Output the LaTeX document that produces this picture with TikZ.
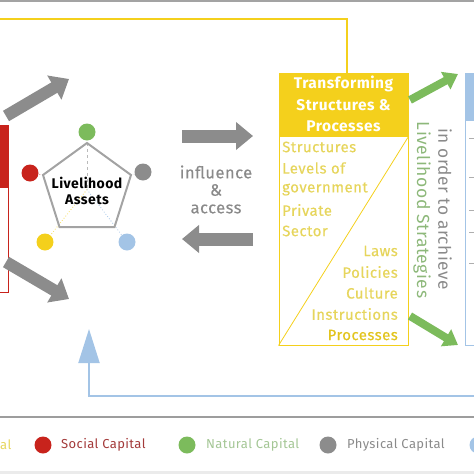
\documentclass[tikz,border=0pt]{standalone}
\usepackage{fontspec}
\setmainfont{Fira Sans}[LetterSpace=3]
\usetikzlibrary{arrows.meta}
\definecolor{ygold}{HTML}{F4D01C}
\definecolor{ytext}{HTML}{E6D55C}
\definecolor{ydark}{HTML}{E2C41E}
\definecolor{agray}{HTML}{8C8C8C}
\definecolor{tgray}{HTML}{8A8A8A}
\definecolor{lgreen}{HTML}{7CBB5C}
\definecolor{gtext}{HTML}{8DB87A}
\definecolor{rred}{HTML}{C8231C}
\definecolor{rtext}{HTML}{A33A3A}
\definecolor{lblue}{HTML}{A3C4E6}
\tikzset{
  garrow/.style={draw=agray, line width=12pt, -{Triangle[length=17pt,width=27pt]}},
  grarrow/.style={draw=lgreen, line width=8pt, -{Triangle[length=14pt,width=19pt]}},
  ybody/.style={text=ytext, inner sep=0pt, font=\fontsize{15}{17}\selectfont\addfontfeature{FakeBold=0.4}},
  hdr/.style={text=white, inner sep=0pt, font=\bfseries\fontsize{15.5}{17}\selectfont},
  mid/.style={text=tgray, inner sep=0pt, font=\fontsize{16.5}{18}\selectfont\addfontfeature{FakeBold=0.3}},
  leg/.style={inner sep=0pt, anchor=west, font=\fontsize{13}{14}\selectfont},
  capdot/.style={circle, inner sep=0pt, minimum size=17pt},
}
\begin{document}
\begin{tikzpicture}[x=1pt,y=-1pt]
\useasboundingbox (0,0) rectangle (474,474);
% top gray line
\draw[draw=agray!80, line width=2pt] (0,1) -- (474,1);
% yellow top connector
\coordinate (ytl) at (0,19);
\coordinate (ytc) at (347,19);
% yellow box
\node[draw=ygold, line width=1pt, minimum width=129pt, minimum height=272pt, inner sep=0pt] (ybox) at (343.5,209) {};
\fill[ygold] (ybox.north west) rectangle ([yshift=-64pt]ybox.north east);
\coordinate (hdrb) at ([yshift=-64pt]ybox.north east);
\draw[ygold, line width=1.5pt] (ytl) -- (ytc) -- (ybox.north -| ytc);
\draw[ygold, line width=0.8pt] (ybox.south west) -- (hdrb);
\node[hdr] (h1) at (343.5,84) {Transforming};
\node[hdr] (h2) at (343.5,105) {Structures \&};
\node[hdr] (h3) at (343.5,126) {Processes};
\node[ybody, anchor=west] (s1) at (282,147) {Structures};
\node[ybody, anchor=west] (s2) at (282,168) {Levels of};
\node[ybody, anchor=west] (s3) at (282,189) {government};
\node[ybody, anchor=west] (s4) at (282,210) {Private};
\node[ybody, anchor=west] (s5) at (282,231) {Sector};
\node[ybody, anchor=east] (p1) at (398,251) {Laws};
\node[ybody, anchor=east] (p2) at (398,272) {Policies};
\node[ybody, anchor=east] (p3) at (398,293) {Culture};
\node[ybody, anchor=east] (p4) at (398,314) {Instructions};
\node[ybody, anchor=east, text=ydark] (p5) at (398,335) {Processes};
% blue box at right
\node[draw=lblue, line width=1pt, minimum width=20pt, minimum height=272pt, inner sep=0pt] (bbox) at (475,209) {};
\fill[lblue] (bbox.north west) rectangle ([yshift=-48pt]bbox.north east);
\foreach \yy in {138,177,210,232,263} \draw[agray!70, line width=0.8pt] (469,\yy) -- (474,\yy);
% vertical texts
\node[text=gtext, rotate=-90, inner sep=0pt, font=\fontsize{17.5}{18}\selectfont] (ls) at (422,210) {Livelihood Strategies};
\node[text=tgray, rotate=-90, inner sep=0pt, font=\fontsize{17.3}{18}\selectfont] (io) at (445,209) {in order to archieve};
% green arrows
\coordinate (g1s) at (410,100); \coordinate (g1e) at (458,74);
\coordinate (g2s) at (410,316); \coordinate (g2e) at (458,345);
\draw[grarrow] (g1s) -- (g1e);
\draw[grarrow] (g2s) -- (g2e);
% red box at left
\node[draw=rred, line width=0.8pt, minimum width=20pt, minimum height=167pt, inner sep=0pt] (rbox) at (-2,208.5) {};
\fill[rred] (rbox.north west) rectangle ([yshift=-63pt]rbox.north east);
% gray arrows left
\coordinate (a1s) at (6,116); \coordinate (a1e) at (69,79);
\coordinate (a2s) at (6,262); \coordinate (a2e) at (69,299);
\draw[garrow] (a1s) -- (a1e);
\draw[garrow] (a2s) -- (a2e);
% middle arrows
\coordinate (m1s) at (182,136); \coordinate (m1e) at (253,136);
\coordinate (m2s) at (253,239); \coordinate (m2e) at (182,239);
\draw[garrow, line width=13pt] (m1s) -- (m1e);
\draw[garrow, line width=13pt] (m2s) -- (m2e);
\node[mid] (inf) at (216,172) {influence};
\node[mid] (amp) at (216,190) {\&};
\node[mid] (acc) at (216,209) {access};
% pentagon
\coordinate (pc) at (87,189.5);
\coordinate (v1) at (87,143);
\coordinate (v2) at (131,175);
\coordinate (v3) at (114.5,227);
\coordinate (v4) at (59.5,227);
\coordinate (v5) at (43,175);
\node[capdot, fill=lgreen] (cg) at (87,132) {};
\node[capdot, fill=agray] (cp) at (143,172) {};
\node[capdot, fill=rred] (cr) at (30,173) {};
\node[capdot, fill=ygold] (cy) at (45,242) {};
\node[capdot, fill=lblue] (cb) at (127,242) {};
\draw[agray!60, dashed, line width=0.6pt] (v1) -- (pc);
\draw[ygold!70, dotted, line width=0.8pt] (pc) -- (cy);
\draw[lblue, dotted, line width=0.8pt] (pc) -- (cb);
\draw[rred!60, dotted, line width=0.8pt] (v5) -- (cr);
\draw[agray!60, dotted, line width=0.8pt] (v2) -- (cp);
\draw[agray!80, line width=2pt, line join=miter] (v1) -- (v2) -- (v3) -- (v4) -- (v5) -- cycle;
\node[inner sep=0pt, font=\bfseries\fontsize{14}{16}\selectfont] (la1) at (87,183) {Livelihood};
\node[inner sep=0pt, font=\bfseries\fontsize{14}{16}\selectfont] (la2) at (87,200) {Assets};
% blue feedback arrow
\coordinate (fb1) at (474,396);
\coordinate (fb2) at (89,396);
\coordinate (fb3) at (89,329);
\draw[lblue, line width=2pt, -{Triangle[length=34pt,width=21pt]}] (fb1) -- (fb2) -- (fb3);
% bottom line & legend
\draw[agray!85, line width=1.5pt] (0,417) -- (474,417);
\fill[black!8] (0,471) rectangle (474,474);
\node[leg, anchor=west, text=ytext] (lf) at (0,445) {al};
\node[capdot, fill=rred] (lcr) at (43,445) {};
\node[leg, text=rtext] (lsr) at (61,445) {Social Capital};
\node[capdot, fill=lgreen] (lcg) at (187,445) {};
\node[leg, text=gtext!80] (lsg) at (206,445) {Natural Capital};
\node[capdot, fill=agray] (lcp) at (328,445) {};
\node[leg, text=tgray] (lsp) at (347,445) {Physical Capital};
\node[capdot, fill=lblue] (lcb) at (478,445) {};
\end{tikzpicture}
\end{document}
